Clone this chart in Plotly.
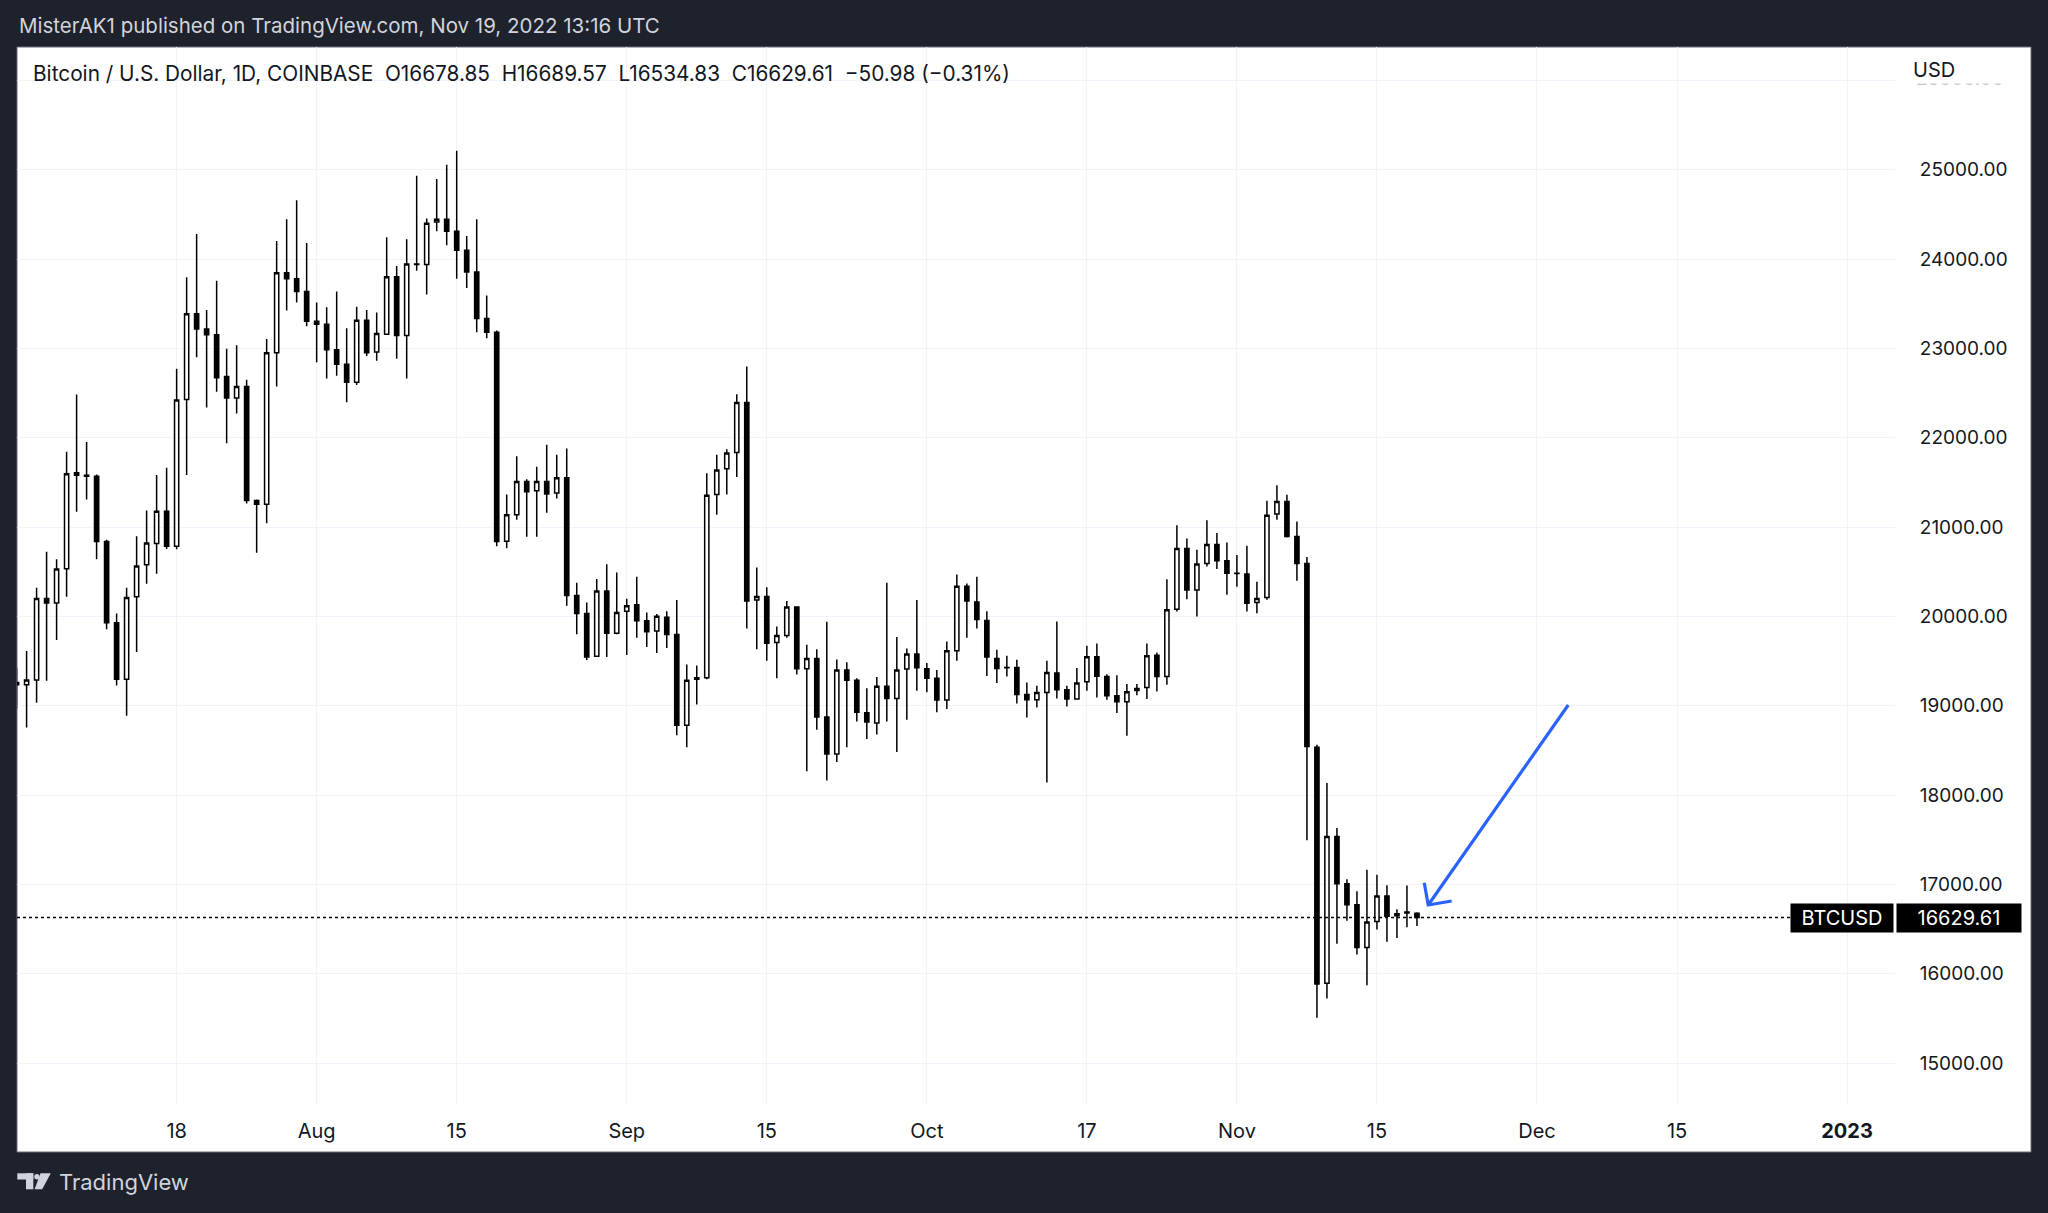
import pandas as pd
import plotly.graph_objects as go

# ---------------- data ----------------
dates = pd.date_range("2022-07-02", "2022-11-19", freq="D")

opens = [
    19262, 19236, 19290, 20202, 20150, 20534, 21610, 21580, 21570, 20840, 19931, 19297, 20220, 20579, 20818, 21177,
    20787, 22428, 23390, 23217, 23155, 22685, 22446, 22574, 21297, 21255, 22951, 23847, 23780, 23639,
    23306, 23271, 22987, 22823, 22623, 23315, 22960, 23160, 23803, 23146, 23945, 23940, 24415, 24446, 24313, 24100,
    23856, 23337, 23182, 20842, 21140, 21511, 21408, 21511, 21382, 21552, 20234, 20033, 19555, 20286, 19812,
    20059, 20131, 19951, 19838, 19992, 19797, 18783, 19297, 19313, 21366, 21655, 21835, 22396, 20183, 20224, 19709,
    19786, 20105, 19416, 19529, 18875, 18459, 19400, 19287, 18922, 18808, 19220, 19081, 19411, 19581,
    19416, 19308, 19066, 19617, 20337, 20162, 19956, 19530, 19429, 19429, 19127, 19067, 19149, 19366, 19179, 19075,
    19269, 19549, 19328, 19112, 19045, 19170, 19205, 19567, 19328, 20082, 20761, 20295, 20593, 20806, 20623,
    20485, 20474, 20157, 20213, 21146, 21287, 20896, 20593, 18535, 15895, 17537, 17009, 16774, 16294, 16585, 16872,
    16671, 16692, 16678.85,
]
highs = [
    19420, 19612, 20322, 20725, 20641, 21843, 22486, 21953, 21590, 20860, 20033, 20322, 20898, 21186, 21585, 21665,
    22774, 23798, 24282, 23430, 23758, 22996, 23035, 22650, 21310, 23106, 24202, 24446, 24659, 24180,
    23514, 23461, 23639, 23226, 23466, 23430, 23404, 24246, 23922, 24224, 24933, 24454, 24898, 25058, 25213, 24259,
    24446, 23594, 23200, 21366, 21794, 21536, 21675, 21922, 21809, 21881, 20378, 20157, 20419, 20584, 20492,
    20198, 20445, 20044, 20028, 20059, 20183, 19462, 19452, 21603, 21809, 21871, 22488, 22797, 20548, 20327, 19889,
    20172, 20115, 19684, 19632, 19941, 19519, 19488, 19308, 19195, 19323, 20378, 19771, 19642, 20183,
    19478, 19400, 19720, 20471, 20368, 20445, 20059, 19627, 19560, 19515, 19261, 19224, 19504, 19944, 19224, 19422,
    19672, 19698, 19354, 19343, 19243, 19243, 19698, 19597, 20418, 21022, 20873, 20746, 21078, 20933, 20828,
    20687, 20791, 20388, 21295, 21470, 21362, 21063, 20666, 18565, 18137, 17631, 17057, 16924, 17164, 17108, 16992,
    16722, 16988, 16689.57,
]
lows = [
    18970, 18756, 19035, 19280, 19736, 20220, 21173, 21310, 20641, 19856, 19226, 18889, 19603, 20366, 20477, 20756,
    20752, 21585, 22902, 22339, 22517, 21940, 22273, 21266, 20712, 21044, 22574, 23426, 23514, 23248,
    22845, 22663, 22694, 22397, 22592, 22916, 22863, 23150, 22885, 22663, 23869, 23603, 24313, 24157, 23780, 23678,
    23182, 23115, 20787, 20764, 21083, 20893, 20893, 21161, 21320, 20121, 19802, 19514, 19545, 19545, 19802,
    19570, 19761, 19658, 19591, 19647, 18670, 18536, 19014, 19297, 21140, 21366, 21562, 19864, 19632, 19503, 19308,
    19761, 19349, 18268, 18731, 18165, 18371, 18536, 18824, 18628, 18680, 18824, 18484, 18845, 19169,
    19153, 18927, 18963, 19503, 19761, 19864, 19334, 19254, 19328, 19026, 18869, 18981, 18142, 19082, 18993, 19067,
    19168, 19093, 19067, 18918, 18664, 19119, 19075, 19160, 19235, 20056, 20194, 19999, 20560, 20530, 20243,
    20332, 20056, 20037, 20187, 21082, 20884, 20399, 17494, 15509, 15724, 16336, 16594, 16217, 15872, 16495, 16358,
    16401, 16521, 16534.83,
]
closes = [
    19236, 19290, 20202, 20150, 20530, 21599, 21580, 21570, 20840, 19931, 19297, 20211, 20565, 20823, 21177, 20787,
    22424, 23390, 23217, 23155, 22672, 22446, 22574, 21297, 21255, 22951, 23847, 23780, 23639, 23306,
    23271, 22987, 22823, 22623, 23315, 22951, 23169, 23803, 23146, 23945, 23940, 24401, 24446, 24313, 24100, 23856,
    23337, 23182, 20838, 21140, 21511, 21397, 21511, 21372, 21552, 20234, 20033, 19545, 20286, 19812, 20044,
    20121, 19951, 19828, 20003, 19797, 18783, 19287, 19313, 21356, 21639, 21830, 22396, 20172, 20224, 19699, 19786,
    20105, 19416, 19529, 18875, 18459, 19400, 19287, 18927, 18819, 19220, 19081, 19400, 19581, 19426,
    19308, 19066, 19617, 20337, 20172, 19966, 19545, 19418, 19425, 19127, 19067, 19149, 19373, 19179, 19075, 19254,
    19549, 19330, 19112, 19045, 19157, 19194, 19560, 19328, 20075, 20761, 20295, 20586, 20806, 20623, 20485,
    20481, 20149, 20201, 21134, 21287, 20896, 20593, 18544, 15886, 17537, 17009, 16774, 16294, 16581, 16872, 16645,
    16650, 16680.59, 16629.61,
]

symbol = "BTCUSD"
title_text = "Bitcoin / U.S. Dollar, 1D, COINBASE"
published_text = "MisterAK1 published on TradingView.com, Nov 19, 2022 13:16 UTC"

price_ticks = [15000, 16000, 17000, 18000, 19000, 20000, 21000, 22000, 23000, 24000, 25000, 26000]
price_ticktext = [f"{v:.2f}" for v in price_ticks[:-1]] + [""]
time_ticks = ["2022-07-18", "2022-08-01", "2022-08-15", "2022-09-01", "2022-09-15", "2022-10-01",
              "2022-10-17", "2022-11-01", "2022-11-15", "2022-12-01", "2022-12-15", "2023-01-01"]
time_ticktext = ["18", "Aug", "15", "Sep", "15", "Oct", "17", "Nov", "15", "Dec", "15", "<b>2023</b>"]

# hand-drawn arrow (date, price)
arrow_x = ["2022-12-04 03:00", "2022-11-20 03:00", None, "2022-11-19 17:30", "2022-11-20 03:00", "2022-11-22 11:15"]
arrow_y = [19009, 16770, None, 17019, 16770, 16815]

# ---------------- geometry helpers (layout only) ----------------
W, H = 2048, 1213
PL, PR, PT, PB = 17, 1895, 47, 1105  # plot area in px


def px(x):
    return (x - PL) / (PR - PL)


def py(y):
    return (PB - y) / (PB - PT)


FONT = "Inter, Roboto, 'Noto Sans', sans-serif"
DARK = "#1e222d"
TEXT = "#131722"
GRID = "#f0f3fa"
FS = 20

fig = go.Figure()

fig.add_trace(go.Candlestick(
    x=dates, open=opens, high=highs, low=lows, close=closes,
    increasing=dict(line=dict(color="#000000", width=1.5), fillcolor="#ffffff"),
    decreasing=dict(line=dict(color="#000000", width=1.5), fillcolor="#000000"),
    whiskerwidth=0, hoverinfo="skip", showlegend=False,
))

fig.add_trace(go.Scatter(
    x=arrow_x, y=arrow_y, mode="lines",
    line=dict(color="#2962ff", width=3.2), hoverinfo="skip", showlegend=False,
    connectgaps=False,
))

last_close = closes[-1]
change = closes[-1] - closes[-2]

shapes = [
    # white chart panel
    dict(type="rect", xref="paper", yref="paper", x0=px(17), x1=px(2031), y0=py(1152), y1=py(47),
         fillcolor="#ffffff", line=dict(color="#6a6d78", width=1), layer="below"),
    # last price dotted line
    dict(type="line", xref="paper", yref="y", x0=0, x1=1, y0=last_close, y1=last_close,
         line=dict(color="#000000", width=1.5, dash="dot"), layer="above"),
]

# TradingView logo
logo_col = "#d1d4dc"


def rect(x0, y0, x1, y1):
    return dict(type="rect", xref="paper", yref="paper", x0=px(x0), x1=px(x1), y0=py(y1), y1=py(y0),
                fillcolor=logo_col, line=dict(width=0))


shapes.append(rect(17.3, 1173.3, 33.3, 1179.5))
shapes.append(rect(26.0, 1173.3, 33.3, 1189.3))
shapes.append(dict(type="circle", xref="paper", yref="paper", x0=px(34.3), x1=px(39.5), y0=py(1179.5), y1=py(1174.0),
                   fillcolor=logo_col, line=dict(width=0)))
poly = [(40.5, 1173.3), (50.8, 1173.3), (42.2, 1189.3), (34.6, 1189.3)]
path = "M " + " L ".join(f"{px(a)},{py(b)}" for a, b in poly) + " Z"
shapes.append(dict(type="path", xref="paper", yref="paper", path=path, fillcolor=logo_col, line=dict(width=0)))

sp = "&nbsp;&nbsp;"
header = (f"{title_text}{sp}O{opens[-1]:.2f}{sp}H{highs[-1]:.2f}{sp}L{lows[-1]:.2f}"
          f"{sp}C{closes[-1]:.2f}{sp}−{abs(change):.2f} (−{abs(change) / closes[-2] * 100:.2f}%)")

annotations = [
    dict(text=published_text, xref="paper", yref="paper", x=px(17), y=py(26), xanchor="left", yanchor="middle",
         showarrow=False, font=dict(family=FONT, size=20.5, color="#d1d4dc")),
    dict(text=header, xref="paper", yref="paper", x=px(31), y=py(73), xanchor="left", yanchor="middle",
         showarrow=False, font=dict(family=FONT, size=20.8, color=TEXT)),
    # faded, partly hidden 26000 label
    dict(text="26000.00", xref="paper", yref="y", x=px(1914), y=26000, yshift=2, xanchor="left", yanchor="middle",
         showarrow=False, font=dict(family=FONT, size=19, color="#c3c5cc")),
    dict(text="USD", xref="paper", yref="paper", x=px(1912), y=py(70), xanchor="left", yanchor="middle",
         showarrow=False, font=dict(family=FONT, size=FS, color=TEXT), bgcolor="#ffffff",
         width=112, height=26, align="left", borderpad=0),
    dict(text=symbol, xref="paper", yref="y", x=px(1894), y=last_close, xanchor="right", yanchor="middle",
         showarrow=False, font=dict(family=FONT, size=FS, color="#ffffff"), bgcolor="#000000",
         width=98, height=24, borderpad=2),
    dict(text=f"{last_close:.2f}", xref="paper", yref="y", x=px(1896), y=last_close, xanchor="left", yanchor="middle",
         showarrow=False, font=dict(family=FONT, size=FS, color="#ffffff"), bgcolor="#000000",
         width=120, height=24, borderpad=2),
    dict(text="TradingView", xref="paper", yref="paper", x=px(57), y=py(1182), xanchor="left", yanchor="middle",
         showarrow=False, font=dict(family=FONT, size=22, color="#d1d4dc")),
]

fig.update_layout(
    width=W, height=H,
    margin=dict(l=PL, r=W - PR, t=PT, b=H - PB, pad=0),
    paper_bgcolor=DARK, plot_bgcolor="#ffffff",
    shapes=shapes, annotations=annotations,
    boxgap=0.4, hovermode=False, showlegend=False,
    font=dict(family=FONT, size=FS, color=TEXT),
)
fig.update_xaxes(
    type="date", range=["2022-07-02 01:00", "2023-01-05 19:00"],
    rangeslider=dict(visible=False),
    tickvals=time_ticks, ticktext=time_ticktext, tickangle=0,
    showgrid=True, gridcolor=GRID, gridwidth=1, zeroline=False, showline=False,
    ticks="", ticklabelstandoff=12, tickfont=dict(family=FONT, size=FS, color=TEXT),
)
fig.update_yaxes(
    side="right", range=[14531, 26375],
    tickvals=price_ticks, ticktext=price_ticktext,
    showgrid=True, gridcolor=GRID, gridwidth=1, zeroline=False, showline=False,
    ticks="outside", ticklen=20, tickcolor="rgba(0,0,0,0)", tickwidth=1,
    tickfont=dict(family=FONT, size=19, color=TEXT),
)

fig.write_html("out.html")
